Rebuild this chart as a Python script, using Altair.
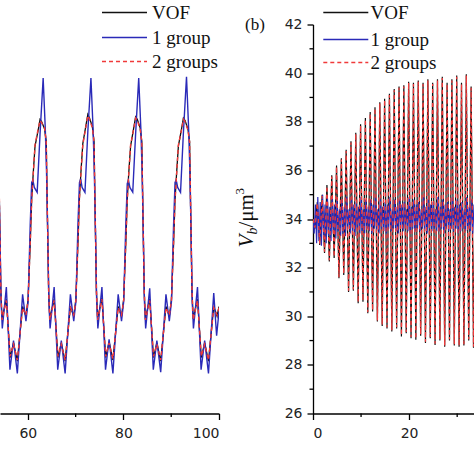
import altair as alt
import pandas as pd

# ---------------- Left panel (a), visible part x = 54..100 ----------------
left_vof_x = [53.85, 54.1, 54.35, 54.6, 55.5, 56.3, 57.0, 57.8, 58.9,
              59.6, 60.05, 60.5, 60.8, 61.1, 61.5, 62.2, 62.55, 62.9, 63.5, 63.85, 64.1, 64.35, 64.6, 65.5, 66.3, 67.0, 67.8, 68.9,
              69.6, 70.05, 70.5, 70.8, 71.1, 71.5, 72.2, 72.55, 72.9, 73.5, 73.85, 74.1, 74.35, 74.6, 75.5, 76.3, 77.0, 77.8, 78.9,
              79.6, 80.05, 80.5, 80.8, 81.1, 81.5, 82.2, 82.55, 82.9, 83.5, 83.85, 84.1, 84.35, 84.6, 85.5, 86.3, 87.0, 87.8, 88.9,
              89.6, 90.05, 90.5, 90.8, 91.1, 91.5, 92.2, 92.55, 92.9, 93.5, 93.85, 94.1, 94.35, 94.6, 95.5, 96.3, 97.0, 97.8, 98.9,
              99.6, 100.0]
left_vof = [37.2, 34.0, 31.0, 29.9, 30.7, 28.3, 28.9, 28.15, 30.4,
            30.0, 30.7, 33.0, 34.8, 35.8, 37.0, 37.7, 38.1, 38.0, 37.7, 37.2, 34.0, 31.0, 29.9, 30.7, 28.3, 28.9, 28.15, 30.4,
            30.0, 30.7, 33.1, 34.9, 35.9, 37.1, 37.9, 38.3, 38.15, 37.8, 37.2, 34.0, 31.0, 29.9, 30.75, 28.3, 28.95, 28.2, 30.4,
            30.0, 30.7, 33.0, 34.8, 35.85, 37.0, 37.8, 38.2, 38.1, 37.75, 37.2, 34.0, 31.0, 29.9, 30.7, 28.3, 28.9, 28.15, 30.4,
            30.0, 30.7, 33.0, 34.8, 35.8, 37.0, 37.75, 38.15, 38.05, 37.7, 37.2, 34.0, 31.0, 29.9, 30.7, 28.3, 28.9, 28.15, 30.4,
            30.0, 30.4]
left_grp2 = [37.15, 34.1, 31.05, 29.85, 30.65, 28.35, 28.85, 28.2, 30.35,
             30.05, 30.65, 33.05, 34.75, 35.75, 37.05, 37.75, 38.05, 37.95, 37.75, 37.15, 34.1, 31.05, 29.85, 30.65, 28.35, 28.85, 28.2, 30.35,
             30.05, 30.65, 33.05, 34.85, 35.85, 37.05, 37.85, 38.25, 38.1, 37.75, 37.15, 34.1, 31.05, 29.85, 30.7, 28.35, 28.9, 28.25, 30.35,
             30.05, 30.65, 33.05, 34.75, 35.8, 37.05, 37.75, 38.15, 38.05, 37.7, 37.15, 34.1, 31.05, 29.85, 30.65, 28.35, 28.85, 28.2, 30.35,
             30.05, 30.65, 33.05, 34.75, 35.75, 37.05, 37.7, 38.1, 38.0, 37.65, 37.15, 34.1, 31.05, 29.85, 30.65, 28.35, 28.85, 28.2, 30.35,
             30.05, 30.35]
left_g1_x = [53.9, 54.15, 54.4, 54.65, 55.5, 56.25, 57.0, 57.8, 58.9,
             59.6, 60.05, 60.5, 60.8, 61.05, 61.35, 61.95, 62.55, 63.2, 63.65, 63.9, 64.15, 64.4, 64.65, 65.5, 66.25, 67.0, 67.8, 68.9,
             69.6, 70.05, 70.5, 70.8, 71.05, 71.35, 71.95, 72.55, 73.2, 73.65, 73.9, 74.15, 74.4, 74.65, 75.5, 76.25, 77.0, 77.8, 78.9,
             79.6, 80.05, 80.5, 80.8, 81.05, 81.35, 81.95, 82.55, 83.2, 83.65, 83.9, 84.15, 84.4, 84.65, 85.5, 86.25, 87.0, 87.8, 88.9,
             89.6, 90.05, 90.5, 90.8, 91.05, 91.35, 91.95, 92.55, 93.2, 93.65, 93.9, 94.15, 94.4, 94.65, 95.5, 96.25, 97.0, 97.8, 98.9,
             99.5, 100.0]
left_grp1 = [36.0, 33.5, 30.6, 29.5, 31.2, 27.8, 29.0, 27.65, 30.9,
             29.8, 30.6, 33.8, 35.5, 35.6, 35.3, 35.1, 37.5, 39.8, 37.7, 36.0, 33.5, 30.6, 29.5, 31.2, 27.8, 29.0, 27.65, 30.9,
             29.8, 30.6, 33.9, 35.5, 35.65, 35.3, 35.1, 37.6, 39.8, 37.7, 36.0, 33.5, 30.6, 29.5, 31.2, 27.8, 29.05, 27.65, 30.9,
             29.8, 30.6, 33.8, 35.45, 35.6, 35.3, 35.1, 37.5, 39.8, 37.7, 36.0, 33.5, 30.6, 29.5, 31.15, 27.8, 29.0, 27.7, 30.9,
             29.8, 30.6, 33.8, 35.5, 35.6, 35.3, 35.1, 37.55, 39.85, 37.7, 36.0, 33.5, 30.6, 29.5, 31.2, 27.8, 29.0, 27.65, 30.95,
             29.2, 30.2]
left_minor = [70, 90]

# ---------------- Right panel (b), visible part x = 0..33.5 ----------------
right_x = [0.0, 0.4, 0.9, 1.4, 1.9, 2.4, 2.9, 3.4, 3.9, 4.4, 4.9, 5.4, 5.9, 6.4, 6.9, 7.4, 7.9, 8.4, 8.9, 9.4, 9.9,
           10.4, 10.9, 11.4, 11.9, 12.4, 12.9, 13.4, 13.9, 14.4, 14.9, 15.4, 15.9, 16.4, 16.9, 17.4, 17.9, 18.4, 18.9, 19.4, 19.9,
           20.4, 20.9, 21.4, 21.9, 22.4, 22.9, 23.4, 23.9, 24.4, 24.9, 25.4, 25.9, 26.4, 26.9, 27.4, 27.9, 28.4, 28.9, 29.4, 29.9,
           30.4, 30.9, 31.4, 31.9, 32.4, 32.9, 33.4, 33.9]
right_vof = [34.0, 33.6, 34.7, 32.93, 35.0, 32.6, 35.4, 32.25, 35.8, 32.4, 36.2, 31.56, 36.5, 31.7, 36.85, 31.0, 37.2, 31.05, 37.55, 30.53, 37.9,
             30.6, 38.15, 30.12, 38.4, 30.2, 38.6, 29.78, 38.8, 29.6, 38.95, 29.5, 39.15, 29.37, 39.35, 29.5, 39.45, 29.17, 39.5, 29.3, 39.65,
             29.1, 39.6, 29.03, 39.7, 29.2, 39.6, 28.9, 39.75, 29.1, 39.6, 28.82, 39.75, 29.0, 39.85, 28.75, 39.6, 29.0, 39.75, 28.8, 39.9,
             28.75, 39.6, 28.8, 39.95, 29.0, 39.45, 28.7, 39.8]
right_grp2 = [34.0, 33.65, 34.65, 32.98, 34.95, 32.65, 35.35, 32.3, 35.75, 32.45, 36.15, 31.6, 36.45, 31.75, 36.8, 31.05, 37.15, 31.1, 37.5, 30.58, 37.85,
              30.65, 38.1, 30.17, 38.35, 30.25, 38.55, 29.83, 38.75, 29.65, 38.9, 29.55, 39.1, 29.42, 39.3, 29.55, 39.4, 29.22, 39.45, 29.35, 39.6,
              29.15, 39.55, 29.08, 39.65, 29.25, 39.55, 28.95, 39.7, 29.15, 39.55, 28.87, 39.7, 29.05, 39.8, 28.8, 39.55, 29.05, 39.7, 28.85, 39.85,
              28.8, 39.55, 28.85, 39.9, 29.05, 39.4, 28.75, 39.75]
right_g1_x = [0.0, 0.25, 0.5, 0.75, 1.0, 1.25, 1.5, 1.75, 2.0, 2.25, 2.5, 2.75, 3.0, 3.25, 3.5, 3.75,
              4.0, 4.25, 4.5, 4.75, 5.0, 5.25, 5.5, 5.75, 6.0, 6.25, 6.5, 6.75, 7.0, 7.25, 7.5, 7.75,
              8.0, 8.25, 8.5, 8.75, 9.0, 9.25, 9.5, 9.75, 10.0, 10.25, 10.5, 10.75, 11.0, 11.25, 11.5, 11.75,
              12.0, 12.25, 12.5, 12.75, 13.0, 13.25, 13.5, 13.75, 14.0, 14.25, 14.5, 14.75, 15.0, 15.25, 15.5, 15.75,
              16.0, 16.25, 16.5, 16.75, 17.0, 17.25, 17.5, 17.75, 18.0, 18.25, 18.5, 18.75, 19.0, 19.25, 19.5, 19.75,
              20.0, 20.25, 20.5, 20.75, 21.0, 21.25, 21.5, 21.75, 22.0, 22.25, 22.5, 22.75, 23.0, 23.25, 23.5, 23.75,
              24.0, 24.25, 24.5, 24.75, 25.0, 25.25, 25.5, 25.75, 26.0, 26.25, 26.5, 26.75, 27.0, 27.25, 27.5, 27.75,
              28.0, 28.25, 28.5, 28.75, 29.0, 29.25, 29.5, 29.75, 30.0, 30.25, 30.5, 30.75, 31.0, 31.25, 31.5, 31.75,
              32.0, 32.25, 32.5, 32.75, 33.0, 33.25, 33.5, 33.75]
right_grp1 = [34.0, 33.4, 34.6, 33.0, 34.9, 33.1, 34.7, 32.9, 35.0, 33.2, 34.6, 33.0, 34.9, 33.3, 34.5, 33.1,
              34.9, 33.4, 34.6, 33.2, 34.8, 33.5, 34.4, 33.3, 34.8, 33.4, 34.5, 33.3, 34.9, 33.6, 34.4, 33.4,
              34.8, 33.5, 34.6, 33.3, 34.7, 33.6, 34.5, 33.4, 34.9, 33.5, 34.4, 33.4, 34.8, 33.6, 34.5, 33.5,
              34.8, 33.4, 34.6, 33.6, 34.9, 33.5, 34.4, 33.4, 34.8, 33.6, 34.5, 33.5, 34.7, 33.4, 34.6, 33.6,
              34.9, 33.5, 34.4, 33.6, 34.8, 33.5, 34.5, 33.4, 34.8, 33.6, 34.6, 33.5, 34.7, 33.6, 34.4, 33.5,
              34.9, 33.4, 34.5, 33.6, 34.8, 33.5, 34.6, 33.6, 34.7, 33.5, 34.4, 33.6, 34.9, 33.5, 34.5, 33.4,
              34.8, 33.6, 34.6, 33.5, 34.7, 33.6, 34.4, 33.5, 34.9, 33.5, 34.5, 33.6, 34.8, 33.4, 34.6, 33.6,
              34.7, 33.5, 34.4, 33.6, 34.9, 33.5, 34.5, 33.6, 34.8, 33.4, 34.6, 33.5, 34.7, 33.6, 34.4, 33.5,
              34.9, 33.6, 34.5, 33.5, 34.8, 33.4, 34.6, 33.5]
right_major_x = [0, 20]
right_minor_x = [10, 30]
right_major_y = [26, 28, 30, 32, 34, 36, 38, 40, 42]
right_minor_y = [27, 29, 31, 33, 35, 37, 39, 41]

legend_labels = ["VOF", "1 group", "2 groups"]

# ---------------- styling ----------------
H = 389
BLACK = "#111111"
BLUE = "#2a2ab8"
RED = "#f03a3a"
AX_FONT = "DejaVu Sans"
SERIF = "Liberation Serif"
one = pd.DataFrame({"k": [0]})


def line_layer(xv, yv, color, xenc, yenc, dash=None, width=1.1):
    df = pd.DataFrame({"x": xv, "y": yv})
    kw = dict(color=color, strokeWidth=width, clip=True)
    if dash:
        kw["strokeDash"] = dash
    return alt.Chart(df).mark_line(**kw).encode(x=xenc, y=yenc)


def legend(x0, x1, xt, ys):
    layers = []
    styles = [(BLACK, None), (BLUE, None), (RED, [4, 3])]
    for lab, yy, (col, dash) in zip(legend_labels, ys, styles):
        kw = dict(color=col, strokeWidth=1.3)
        if dash:
            kw["strokeDash"] = dash
        layers.append(alt.Chart(one).mark_rule(**kw).encode(
            x=alt.value(x0), x2=alt.value(x1), y=alt.value(yy)))
        layers.append(alt.Chart(one).mark_text(
            font=SERIF, fontSize=19, align="left", baseline="middle", color="#111").encode(
            x=alt.value(xt), y=alt.value(yy), text=alt.value(lab)))
    return layers


axis_common = dict(domainColor="black", domainWidth=1.3, tickColor="black", tickWidth=1.3,
                   tickSize=6, labelFont=AX_FONT, labelFontSize=14, labelColor="#222",
                   title=None, grid=False)

# ----- left -----
lxs = alt.Scale(domain=[54.17, 100], nice=False, zero=False)
lys = alt.Scale(domain=[26, 42], nice=False, zero=False)
lx = alt.X("x:Q", scale=lxs, axis=alt.Axis(values=[60, 80, 100], labelPadding=7, **axis_common))
ly = alt.Y("y:Q", scale=lys, axis=None)

left_layers = [
    line_layer(left_vof_x, left_vof, BLACK, lx, ly, width=1.3),
    line_layer(left_g1_x, left_grp1, BLUE, lx, ly, width=1.4),
    line_layer(left_vof_x, left_grp2, RED, lx, ly, dash=[4, 3], width=1.4),
    alt.Chart(pd.DataFrame({"x": left_minor})).mark_rule(color="black", strokeWidth=1.3).encode(
        x=lx, y=alt.value(H), y2=alt.value(H + 3.5)),
] + legend(102, 147, 152, [-12, 13, 37])
left = alt.layer(*left_layers).properties(width=219, height=H)

# ----- right -----
rxs = alt.Scale(domain=[0, 33.5], nice=False, zero=False)
rys = alt.Scale(domain=[26, 42], nice=False, zero=False)
rx = alt.X("x:Q", scale=rxs, axis=alt.Axis(values=right_major_x, labelPadding=7, **axis_common))
ry = alt.Y("y:Q", scale=rys, axis=alt.Axis(values=right_major_y, labelPadding=5, **axis_common))

title_parts = [
    ("V", 21, "italic", -60.5, 223),
    ("b", 14, "italic", -56.0, 210),
    ("/μm", 21, "normal", -60.5, 203),
    ("3", 13, "normal", -69.0, 170),
]
title_layers = [
    alt.Chart(one).mark_text(font=SERIF, fontSize=fs, fontStyle=st, angle=270, align="left",
                             baseline="alphabetic", color="#111").encode(
        x=alt.value(xx), y=alt.value(yy), text=alt.value(t))
    for t, fs, st, xx, yy in title_parts
]

right_layers = [
    line_layer(right_x, right_vof, BLACK, rx, ry, width=1.2),
    line_layer(right_g1_x, right_grp1, BLUE, rx, ry, width=1.2),
    line_layer(right_x, right_grp2, RED, rx, ry, dash=[4, 3], width=1.3),
    alt.Chart(pd.DataFrame({"x": right_minor_x})).mark_rule(color="black", strokeWidth=1.3).encode(
        x=rx, y=alt.value(H), y2=alt.value(H + 3.5)),
    alt.Chart(pd.DataFrame({"y": right_minor_y})).mark_rule(color="black", strokeWidth=1.3).encode(
        y=ry, x=alt.value(0), x2=alt.value(-3.5)),
    alt.Chart(one).mark_text(font=SERIF, fontSize=17, align="center", baseline="middle", color="#111").encode(
        x=alt.value(-58), y=alt.value(0), text=alt.value("(b)")),
] + title_layers + legend(10.3, 55.3, 57.5, [-12, 15, 38])
right = alt.layer(*right_layers).properties(width=161, height=H)

chart = alt.hconcat(left, right, spacing=94, bounds="flush").properties(
    padding={"left": 0, "top": 3.5, "right": 0, "bottom": 0},
    autosize=alt.AutoSizeParams(type="pad"),
    background="white",
).configure_view(stroke=None)

chart.save("out.html", embed_options={"renderer": "svg", "actions": False})
